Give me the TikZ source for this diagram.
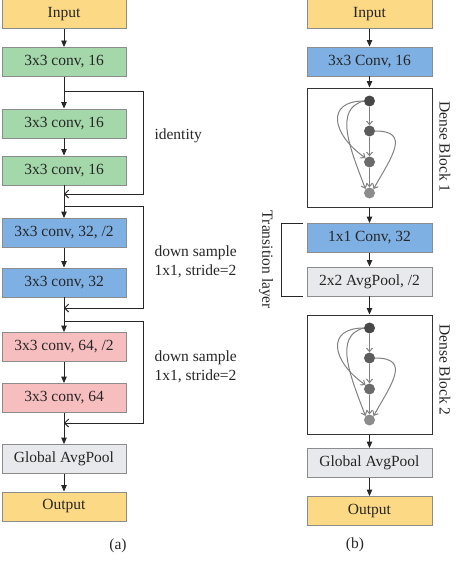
\documentclass[tikz,border=0pt]{standalone}
\usepackage{fontspec}
\setmainfont{Liberation Serif}
\usetikzlibrary{arrows.meta}

\definecolor{ioyellow}{RGB}{252,217,132}
\definecolor{resgreen}{RGB}{164,216,170}
\definecolor{resblue}{RGB}{126,176,227}
\definecolor{respink}{RGB}{247,190,192}
\definecolor{poolgray}{RGB}{232,233,236}

\tikzset{
  txt/.style={font=\fontsize{15.5}{19}\selectfont,text=black!85},
  layer/.style={txt,draw=black!45,line width=0.9pt,minimum width=124pt,
    minimum height=29pt,inner sep=0pt},
  flow/.style={line width=0.9pt,draw=black!85,-{Triangle[length=6.5pt,width=5.5pt]}},
  skip/.style={line width=0.9pt,draw=black!85},
  block/.style={draw=black!80,line width=1pt,minimum width=125pt,minimum height=119pt,inner sep=0pt},
  dn/.style={circle,minimum size=11pt,inner sep=0pt},
  de/.style={draw=black!50,line width=1pt,-{Straight Barb[length=3.5pt,width=6pt]}},
}

\begin{document}
\begin{tikzpicture}[x=1pt,y=-1pt]
  \useasboundingbox (0,0) rectangle (474,578);

  % (a) resnet
  \node[layer,fill=ioyellow] (ain) at (64,14) {Input};
  \foreach \n/\y/\c/\t in {a1/62/resgreen/{3x3 conv, 16},
      a2/123.5/resgreen/{3x3 conv, 16}, a3/170.5/resgreen/{3x3 conv, 16},
      a4/233/resblue/{3x3 conv, 32, /2}, a5/282.5/resblue/{3x3 conv, 32},
      a6/347/respink/{3x3 conv, 64, /2}, a7/398/respink/{3x3 conv, 64},
      a8/459/poolgray/{Global AvgPool}} {
    \node[layer,fill=\c] (\n) at (64,\y) {\t};
  }
  \node[layer,fill=ioyellow] (aout) at (64,506.5) {Output};

  \draw[flow] (ain) -- (a1);
  \foreach \p/\q in {a1/a2,a2/a3,a3/a4,a4/a5,a5/a6,a6/a7,a7/a8,a8/aout} {
    \draw[flow] (\p) -- (\q);
  }

  % shortcuts
  \coordinate (s1) at (64,91);  \coordinate (m1) at (64,194);
  \coordinate (s2) at (64,206); \coordinate (m2) at (64,308);
  \coordinate (s3) at (64,321); \coordinate (m3) at (64,423);
  \foreach \i in {1,2,3} {
    \draw[skip,-{Straight Barb[length=4pt,width=8pt]}] (s\i) -- ++(79,0) |- (m\i);
  }
  \node[txt,anchor=west] (lid) at (151,136) {identity};
  \node[txt,anchor=west,align=left] (lds1) at (151,262) {down sample\\1x1, stride=2};
  \node[txt,anchor=west,align=left] (lds2) at (151,367) {down sample\\1x1, stride=2};
  \node[txt] (capa) at (118,546) {(a)};

  % (b) densenet
  \node[layer,fill=ioyellow,minimum width=125pt] (bin) at (369.5,14) {Input};
  \node[layer,fill=resblue,minimum width=125pt] (bconv) at (369.5,61.5) {3x3 Conv, 16};
  \node[block] (db1) at (369.5,147.5) {};
  \node[layer,fill=resblue,minimum width=125pt] (bt1) at (369.5,238) {1x1 Conv, 32};
  \node[layer,fill=poolgray,minimum width=125pt] (bt2) at (369.5,281.5) {2x2 AvgPool, /2};
  \node[block] (db2) at (369.5,374.5) {};
  \node[layer,fill=poolgray,minimum width=125pt] (bgap) at (369.5,463) {Global AvgPool};
  \node[layer,fill=ioyellow,minimum width=125pt] (bout) at (369.5,511) {Output};

  \foreach \p/\q in {bin/bconv,bconv/db1,db1/bt1,bt1/bt2,bt2/db2,db2/bgap,bgap/bout} {
    \draw[flow] (\p) -- (\q);
  }

  % dense connections inside the blocks
  \foreach \k/\top in {1/88,2/315} {
    \node[dn,fill=black!72] (d\k1) at (369.5,\top+13) {};
    \node[dn,fill=black!64] (d\k2) at (369.5,\top+43) {};
    \node[dn,fill=black!58] (d\k3) at (369.5,\top+74) {};
    \node[dn,fill=black!45] (d\k4) at (369.5,\top+105) {};
    \draw[de] (d\k1) -- (d\k2);
    \draw[de] (d\k2) -- (d\k3);
    \draw[de] (d\k3) -- (d\k4);
    \draw[de] (d\k1.west) .. controls +(-38,0) and +(-34,-24) .. (d\k3.north west);
    \draw[de] (d\k1.west) .. controls +(-30,8) and +(-16,-42) .. (d\k4.north west);
    \draw[de] (d\k2.east) .. controls +(36,0) and +(18,-32) .. (d\k4.north east);
  }

  \node[txt,rotate=-90] (ldb1) at (445,147) {Dense Block 1};
  \node[txt,rotate=-90] (ldb2) at (445,370) {Dense Block 2};
  \draw[skip,line width=0.8pt] ([xshift=-4pt]bt1.north west) -- ++(-21,0) |- ([xshift=-4pt]bt2.south west);
  \node[txt,rotate=-90] (ltr) at (266,260) {Transition layer};
  \node[txt] (capb) at (355,545) {(b)};
\end{tikzpicture}
\end{document}
